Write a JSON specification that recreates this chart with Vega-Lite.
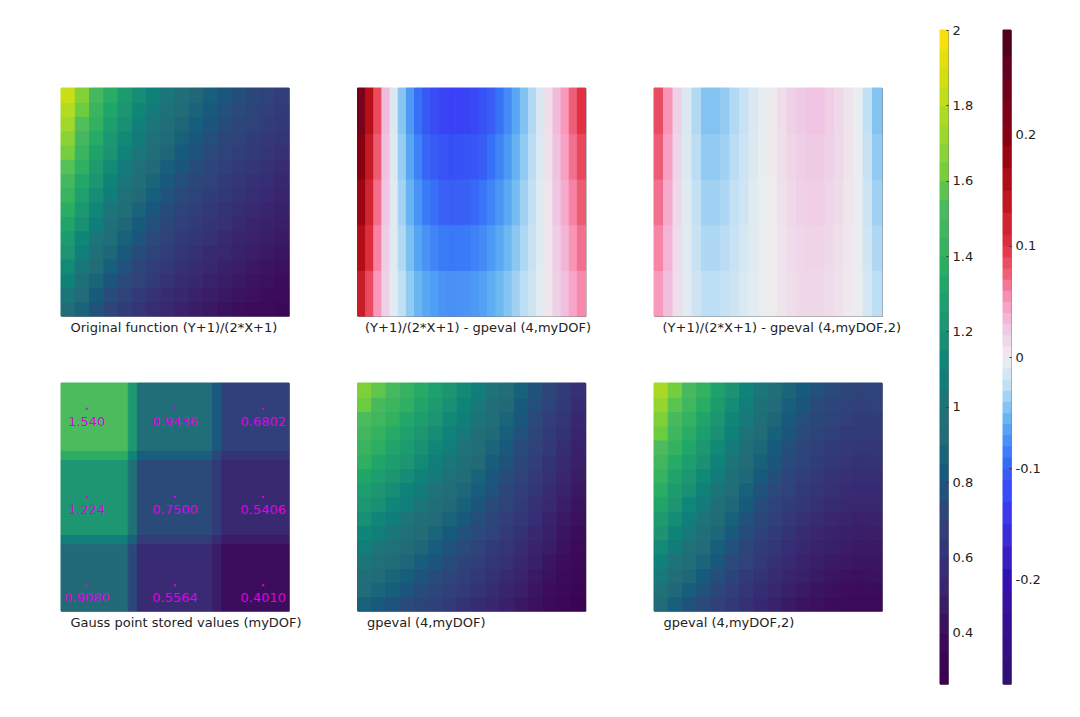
{"$schema":"https://vega.github.io/schema/vega-lite/v6.json","padding":{"left":60,"top":23,"right":0,"bottom":0},"config":{"view":{"stroke":"#808080","strokeWidth":1},"font":"DejaVu Sans","title":{"font":"DejaVu Sans","fontSize":13,"fontWeight":"normal","color":"#222222"},"scale":{"bandPaddingInner":0,"bandPaddingOuter":0}},"resolve":{"scale":{"color":"independent","stroke":"independent"}},"datasets":{
"p1":[{"x":0,"y":0,"v":0.97},{"x":0,"y":1,"v":1.03},{"x":0,"y":2,"v":1.09},{"x":0,"y":3,"v":1.15},{"x":0,"y":4,"v":1.21},{"x":0,"y":5,"v":1.26},{"x":0,"y":6,"v":1.32},{"x":0,"y":7,"v":1.38},{"x":0,"y":8,"v":1.44},{"x":0,"y":9,"v":1.5},{"x":0,"y":10,"v":1.56},{"x":0,"y":11,"v":1.62},{"x":0,"y":12,"v":1.68},{"x":0,"y":13,"v":1.74},{"x":0,"y":14,"v":1.79},{"x":0,"y":15,"v":1.85},
{"x":1,"y":0,"v":0.87},{"x":1,"y":1,"v":0.92},{"x":1,"y":2,"v":0.97},{"x":1,"y":3,"v":1.03},{"x":1,"y":4,"v":1.08},{"x":1,"y":5,"v":1.13},{"x":1,"y":6,"v":1.18},{"x":1,"y":7,"v":1.24},{"x":1,"y":8,"v":1.29},{"x":1,"y":9,"v":1.34},{"x":1,"y":10,"v":1.39},{"x":1,"y":11,"v":1.45},{"x":1,"y":12,"v":1.5},{"x":1,"y":13,"v":1.55},{"x":1,"y":14,"v":1.6},{"x":1,"y":15,"v":1.66},
{"x":2,"y":0,"v":0.79},{"x":2,"y":1,"v":0.83},{"x":2,"y":2,"v":0.88},{"x":2,"y":3,"v":0.93},{"x":2,"y":4,"v":0.98},{"x":2,"y":5,"v":1.02},{"x":2,"y":6,"v":1.07},{"x":2,"y":7,"v":1.12},{"x":2,"y":8,"v":1.17},{"x":2,"y":9,"v":1.21},{"x":2,"y":10,"v":1.26},{"x":2,"y":11,"v":1.31},{"x":2,"y":12,"v":1.36},{"x":2,"y":13,"v":1.41},{"x":2,"y":14,"v":1.45},{"x":2,"y":15,"v":1.5},
{"x":3,"y":0,"v":0.72},{"x":3,"y":1,"v":0.76},{"x":3,"y":2,"v":0.8},{"x":3,"y":3,"v":0.85},{"x":3,"y":4,"v":0.89},{"x":3,"y":5,"v":0.94},{"x":3,"y":6,"v":0.98},{"x":3,"y":7,"v":1.02},{"x":3,"y":8,"v":1.07},{"x":3,"y":9,"v":1.11},{"x":3,"y":10,"v":1.15},{"x":3,"y":11,"v":1.2},{"x":3,"y":12,"v":1.24},{"x":3,"y":13,"v":1.28},{"x":3,"y":14,"v":1.33},{"x":3,"y":15,"v":1.37},
{"x":4,"y":0,"v":0.66},{"x":4,"y":1,"v":0.7},{"x":4,"y":2,"v":0.74},{"x":4,"y":3,"v":0.78},{"x":4,"y":4,"v":0.82},{"x":4,"y":5,"v":0.86},{"x":4,"y":6,"v":0.9},{"x":4,"y":7,"v":0.94},{"x":4,"y":8,"v":0.98},{"x":4,"y":9,"v":1.02},{"x":4,"y":10,"v":1.06},{"x":4,"y":11,"v":1.1},{"x":4,"y":12,"v":1.14},{"x":4,"y":13,"v":1.18},{"x":4,"y":14,"v":1.22},{"x":4,"y":15,"v":1.26},
{"x":5,"y":0,"v":0.61},{"x":5,"y":1,"v":0.65},{"x":5,"y":2,"v":0.69},{"x":5,"y":3,"v":0.72},{"x":5,"y":4,"v":0.76},{"x":5,"y":5,"v":0.8},{"x":5,"y":6,"v":0.83},{"x":5,"y":7,"v":0.87},{"x":5,"y":8,"v":0.91},{"x":5,"y":9,"v":0.95},{"x":5,"y":10,"v":0.98},{"x":5,"y":11,"v":1.02},{"x":5,"y":12,"v":1.06},{"x":5,"y":13,"v":1.09},{"x":5,"y":14,"v":1.13},{"x":5,"y":15,"v":1.17},
{"x":6,"y":0,"v":0.57},{"x":6,"y":1,"v":0.6},{"x":6,"y":2,"v":0.64},{"x":6,"y":3,"v":0.67},{"x":6,"y":4,"v":0.71},{"x":6,"y":5,"v":0.74},{"x":6,"y":6,"v":0.78},{"x":6,"y":7,"v":0.81},{"x":6,"y":8,"v":0.85},{"x":6,"y":9,"v":0.88},{"x":6,"y":10,"v":0.91},{"x":6,"y":11,"v":0.95},{"x":6,"y":12,"v":0.98},{"x":6,"y":13,"v":1.02},{"x":6,"y":14,"v":1.05},{"x":6,"y":15,"v":1.09},
{"x":7,"y":0,"v":0.53},{"x":7,"y":1,"v":0.56},{"x":7,"y":2,"v":0.6},{"x":7,"y":3,"v":0.63},{"x":7,"y":4,"v":0.66},{"x":7,"y":5,"v":0.69},{"x":7,"y":6,"v":0.73},{"x":7,"y":7,"v":0.76},{"x":7,"y":8,"v":0.79},{"x":7,"y":9,"v":0.82},{"x":7,"y":10,"v":0.85},{"x":7,"y":11,"v":0.89},{"x":7,"y":12,"v":0.92},{"x":7,"y":13,"v":0.95},{"x":7,"y":14,"v":0.98},{"x":7,"y":15,"v":1.02},
{"x":8,"y":0,"v":0.5},{"x":8,"y":1,"v":0.53},{"x":8,"y":2,"v":0.56},{"x":8,"y":3,"v":0.59},{"x":8,"y":4,"v":0.62},{"x":8,"y":5,"v":0.65},{"x":8,"y":6,"v":0.68},{"x":8,"y":7,"v":0.71},{"x":8,"y":8,"v":0.74},{"x":8,"y":9,"v":0.77},{"x":8,"y":10,"v":0.8},{"x":8,"y":11,"v":0.83},{"x":8,"y":12,"v":0.86},{"x":8,"y":13,"v":0.89},{"x":8,"y":14,"v":0.92},{"x":8,"y":15,"v":0.95},
{"x":9,"y":0,"v":0.47},{"x":9,"y":1,"v":0.5},{"x":9,"y":2,"v":0.53},{"x":9,"y":3,"v":0.56},{"x":9,"y":4,"v":0.59},{"x":9,"y":5,"v":0.61},{"x":9,"y":6,"v":0.64},{"x":9,"y":7,"v":0.67},{"x":9,"y":8,"v":0.7},{"x":9,"y":9,"v":0.73},{"x":9,"y":10,"v":0.76},{"x":9,"y":11,"v":0.79},{"x":9,"y":12,"v":0.81},{"x":9,"y":13,"v":0.84},{"x":9,"y":14,"v":0.87},{"x":9,"y":15,"v":0.9},
{"x":10,"y":0,"v":0.45},{"x":10,"y":1,"v":0.47},{"x":10,"y":2,"v":0.5},{"x":10,"y":3,"v":0.53},{"x":10,"y":4,"v":0.55},{"x":10,"y":5,"v":0.58},{"x":10,"y":6,"v":0.61},{"x":10,"y":7,"v":0.63},{"x":10,"y":8,"v":0.66},{"x":10,"y":9,"v":0.69},{"x":10,"y":10,"v":0.72},{"x":10,"y":11,"v":0.74},{"x":10,"y":12,"v":0.77},{"x":10,"y":13,"v":0.8},{"x":10,"y":14,"v":0.82},{"x":10,"y":15,"v":0.85},
{"x":11,"y":0,"v":0.42},{"x":11,"y":1,"v":0.45},{"x":11,"y":2,"v":0.47},{"x":11,"y":3,"v":0.5},{"x":11,"y":4,"v":0.53},{"x":11,"y":5,"v":0.55},{"x":11,"y":6,"v":0.58},{"x":11,"y":7,"v":0.6},{"x":11,"y":8,"v":0.63},{"x":11,"y":9,"v":0.65},{"x":11,"y":10,"v":0.68},{"x":11,"y":11,"v":0.7},{"x":11,"y":12,"v":0.73},{"x":11,"y":13,"v":0.76},{"x":11,"y":14,"v":0.78},{"x":11,"y":15,"v":0.81},
{"x":12,"y":0,"v":0.4},{"x":12,"y":1,"v":0.43},{"x":12,"y":2,"v":0.45},{"x":12,"y":3,"v":0.48},{"x":12,"y":4,"v":0.5},{"x":12,"y":5,"v":0.52},{"x":12,"y":6,"v":0.55},{"x":12,"y":7,"v":0.57},{"x":12,"y":8,"v":0.6},{"x":12,"y":9,"v":0.62},{"x":12,"y":10,"v":0.65},{"x":12,"y":11,"v":0.67},{"x":12,"y":12,"v":0.69},{"x":12,"y":13,"v":0.72},{"x":12,"y":14,"v":0.74},{"x":12,"y":15,"v":0.77},
{"x":13,"y":0,"v":0.38},{"x":13,"y":1,"v":0.41},{"x":13,"y":2,"v":0.43},{"x":13,"y":3,"v":0.45},{"x":13,"y":4,"v":0.48},{"x":13,"y":5,"v":0.5},{"x":13,"y":6,"v":0.52},{"x":13,"y":7,"v":0.55},{"x":13,"y":8,"v":0.57},{"x":13,"y":9,"v":0.59},{"x":13,"y":10,"v":0.62},{"x":13,"y":11,"v":0.64},{"x":13,"y":12,"v":0.66},{"x":13,"y":13,"v":0.69},{"x":13,"y":14,"v":0.71},{"x":13,"y":15,"v":0.73},
{"x":14,"y":0,"v":0.37},{"x":14,"y":1,"v":0.39},{"x":14,"y":2,"v":0.41},{"x":14,"y":3,"v":0.43},{"x":14,"y":4,"v":0.46},{"x":14,"y":5,"v":0.48},{"x":14,"y":6,"v":0.5},{"x":14,"y":7,"v":0.52},{"x":14,"y":8,"v":0.55},{"x":14,"y":9,"v":0.57},{"x":14,"y":10,"v":0.59},{"x":14,"y":11,"v":0.61},{"x":14,"y":12,"v":0.63},{"x":14,"y":13,"v":0.66},{"x":14,"y":14,"v":0.68},{"x":14,"y":15,"v":0.7},
{"x":15,"y":0,"v":0.35},{"x":15,"y":1,"v":0.37},{"x":15,"y":2,"v":0.39},{"x":15,"y":3,"v":0.41},{"x":15,"y":4,"v":0.44},{"x":15,"y":5,"v":0.46},{"x":15,"y":6,"v":0.48},{"x":15,"y":7,"v":0.5},{"x":15,"y":8,"v":0.52},{"x":15,"y":9,"v":0.54},{"x":15,"y":10,"v":0.56},{"x":15,"y":11,"v":0.58},{"x":15,"y":12,"v":0.61},{"x":15,"y":13,"v":0.63},{"x":15,"y":14,"v":0.65},{"x":15,"y":15,"v":0.67}],
"p5":[{"x":0,"y":0,"v":0.86},{"x":0,"y":1,"v":0.92},{"x":0,"y":2,"v":0.97},{"x":0,"y":3,"v":1.02},{"x":0,"y":4,"v":1.07},{"x":0,"y":5,"v":1.12},{"x":0,"y":6,"v":1.18},{"x":0,"y":7,"v":1.23},{"x":0,"y":8,"v":1.28},{"x":0,"y":9,"v":1.33},{"x":0,"y":10,"v":1.39},{"x":0,"y":11,"v":1.44},{"x":0,"y":12,"v":1.49},{"x":0,"y":13,"v":1.54},{"x":0,"y":14,"v":1.6},{"x":0,"y":15,"v":1.65},
{"x":1,"y":0,"v":0.82},{"x":1,"y":1,"v":0.88},{"x":1,"y":2,"v":0.92},{"x":1,"y":3,"v":0.98},{"x":1,"y":4,"v":1.02},{"x":1,"y":5,"v":1.08},{"x":1,"y":6,"v":1.12},{"x":1,"y":7,"v":1.18},{"x":1,"y":8,"v":1.22},{"x":1,"y":9,"v":1.28},{"x":1,"y":10,"v":1.32},{"x":1,"y":11,"v":1.38},{"x":1,"y":12,"v":1.42},{"x":1,"y":13,"v":1.48},{"x":1,"y":14,"v":1.52},{"x":1,"y":15,"v":1.58},
{"x":2,"y":0,"v":0.79},{"x":2,"y":1,"v":0.84},{"x":2,"y":2,"v":0.88},{"x":2,"y":3,"v":0.93},{"x":2,"y":4,"v":0.98},{"x":2,"y":5,"v":1.03},{"x":2,"y":6,"v":1.08},{"x":2,"y":7,"v":1.12},{"x":2,"y":8,"v":1.17},{"x":2,"y":9,"v":1.22},{"x":2,"y":10,"v":1.27},{"x":2,"y":11,"v":1.32},{"x":2,"y":12,"v":1.36},{"x":2,"y":13,"v":1.41},{"x":2,"y":14,"v":1.46},{"x":2,"y":15,"v":1.51},
{"x":3,"y":0,"v":0.75},{"x":3,"y":1,"v":0.8},{"x":3,"y":2,"v":0.84},{"x":3,"y":3,"v":0.89},{"x":3,"y":4,"v":0.93},{"x":3,"y":5,"v":0.98},{"x":3,"y":6,"v":1.02},{"x":3,"y":7,"v":1.07},{"x":3,"y":8,"v":1.11},{"x":3,"y":9,"v":1.16},{"x":3,"y":10,"v":1.21},{"x":3,"y":11,"v":1.25},{"x":3,"y":12,"v":1.3},{"x":3,"y":13,"v":1.34},{"x":3,"y":14,"v":1.39},{"x":3,"y":15,"v":1.43},
{"x":4,"y":0,"v":0.71},{"x":4,"y":1,"v":0.76},{"x":4,"y":2,"v":0.8},{"x":4,"y":3,"v":0.84},{"x":4,"y":4,"v":0.89},{"x":4,"y":5,"v":0.93},{"x":4,"y":6,"v":0.97},{"x":4,"y":7,"v":1.02},{"x":4,"y":8,"v":1.06},{"x":4,"y":9,"v":1.1},{"x":4,"y":10,"v":1.15},{"x":4,"y":11,"v":1.19},{"x":4,"y":12,"v":1.23},{"x":4,"y":13,"v":1.28},{"x":4,"y":14,"v":1.32},{"x":4,"y":15,"v":1.36},
{"x":5,"y":0,"v":0.68},{"x":5,"y":1,"v":0.72},{"x":5,"y":2,"v":0.76},{"x":5,"y":3,"v":0.8},{"x":5,"y":4,"v":0.84},{"x":5,"y":5,"v":0.88},{"x":5,"y":6,"v":0.92},{"x":5,"y":7,"v":0.96},{"x":5,"y":8,"v":1.0},{"x":5,"y":9,"v":1.04},{"x":5,"y":10,"v":1.08},{"x":5,"y":11,"v":1.13},{"x":5,"y":12,"v":1.17},{"x":5,"y":13,"v":1.21},{"x":5,"y":14,"v":1.25},{"x":5,"y":15,"v":1.29},
{"x":6,"y":0,"v":0.64},{"x":6,"y":1,"v":0.68},{"x":6,"y":2,"v":0.72},{"x":6,"y":3,"v":0.76},{"x":6,"y":4,"v":0.79},{"x":6,"y":5,"v":0.83},{"x":6,"y":6,"v":0.87},{"x":6,"y":7,"v":0.91},{"x":6,"y":8,"v":0.95},{"x":6,"y":9,"v":0.99},{"x":6,"y":10,"v":1.03},{"x":6,"y":11,"v":1.07},{"x":6,"y":12,"v":1.1},{"x":6,"y":13,"v":1.14},{"x":6,"y":14,"v":1.18},{"x":6,"y":15,"v":1.22},
{"x":7,"y":0,"v":0.6},{"x":7,"y":1,"v":0.64},{"x":7,"y":2,"v":0.67},{"x":7,"y":3,"v":0.71},{"x":7,"y":4,"v":0.75},{"x":7,"y":5,"v":0.78},{"x":7,"y":6,"v":0.82},{"x":7,"y":7,"v":0.86},{"x":7,"y":8,"v":0.89},{"x":7,"y":9,"v":0.93},{"x":7,"y":10,"v":0.97},{"x":7,"y":11,"v":1.0},{"x":7,"y":12,"v":1.04},{"x":7,"y":13,"v":1.08},{"x":7,"y":14,"v":1.11},{"x":7,"y":15,"v":1.15},
{"x":8,"y":0,"v":0.56},{"x":8,"y":1,"v":0.6},{"x":8,"y":2,"v":0.63},{"x":8,"y":3,"v":0.67},{"x":8,"y":4,"v":0.7},{"x":8,"y":5,"v":0.74},{"x":8,"y":6,"v":0.77},{"x":8,"y":7,"v":0.8},{"x":8,"y":8,"v":0.84},{"x":8,"y":9,"v":0.87},{"x":8,"y":10,"v":0.91},{"x":8,"y":11,"v":0.94},{"x":8,"y":12,"v":0.97},{"x":8,"y":13,"v":1.01},{"x":8,"y":14,"v":1.04},{"x":8,"y":15,"v":1.08},
{"x":9,"y":0,"v":0.53},{"x":9,"y":1,"v":0.56},{"x":9,"y":2,"v":0.59},{"x":9,"y":3,"v":0.62},{"x":9,"y":4,"v":0.65},{"x":9,"y":5,"v":0.69},{"x":9,"y":6,"v":0.72},{"x":9,"y":7,"v":0.75},{"x":9,"y":8,"v":0.78},{"x":9,"y":9,"v":0.81},{"x":9,"y":10,"v":0.84},{"x":9,"y":11,"v":0.88},{"x":9,"y":12,"v":0.91},{"x":9,"y":13,"v":0.94},{"x":9,"y":14,"v":0.97},{"x":9,"y":15,"v":1.0},
{"x":10,"y":0,"v":0.49},{"x":10,"y":1,"v":0.52},{"x":10,"y":2,"v":0.55},{"x":10,"y":3,"v":0.58},{"x":10,"y":4,"v":0.61},{"x":10,"y":5,"v":0.64},{"x":10,"y":6,"v":0.67},{"x":10,"y":7,"v":0.7},{"x":10,"y":8,"v":0.73},{"x":10,"y":9,"v":0.76},{"x":10,"y":10,"v":0.79},{"x":10,"y":11,"v":0.82},{"x":10,"y":12,"v":0.85},{"x":10,"y":13,"v":0.88},{"x":10,"y":14,"v":0.91},{"x":10,"y":15,"v":0.94},
{"x":11,"y":0,"v":0.45},{"x":11,"y":1,"v":0.48},{"x":11,"y":2,"v":0.51},{"x":11,"y":3,"v":0.53},{"x":11,"y":4,"v":0.56},{"x":11,"y":5,"v":0.59},{"x":11,"y":6,"v":0.62},{"x":11,"y":7,"v":0.64},{"x":11,"y":8,"v":0.67},{"x":11,"y":9,"v":0.7},{"x":11,"y":10,"v":0.73},{"x":11,"y":11,"v":0.75},{"x":11,"y":12,"v":0.78},{"x":11,"y":13,"v":0.81},{"x":11,"y":14,"v":0.83},{"x":11,"y":15,"v":0.86},
{"x":12,"y":0,"v":0.41},{"x":12,"y":1,"v":0.44},{"x":12,"y":2,"v":0.46},{"x":12,"y":3,"v":0.49},{"x":12,"y":4,"v":0.51},{"x":12,"y":5,"v":0.54},{"x":12,"y":6,"v":0.57},{"x":12,"y":7,"v":0.59},{"x":12,"y":8,"v":0.62},{"x":12,"y":9,"v":0.64},{"x":12,"y":10,"v":0.67},{"x":12,"y":11,"v":0.69},{"x":12,"y":12,"v":0.72},{"x":12,"y":13,"v":0.74},{"x":12,"y":14,"v":0.77},{"x":12,"y":15,"v":0.79},
{"x":13,"y":0,"v":0.38},{"x":13,"y":1,"v":0.4},{"x":13,"y":2,"v":0.42},{"x":13,"y":3,"v":0.44},{"x":13,"y":4,"v":0.47},{"x":13,"y":5,"v":0.49},{"x":13,"y":6,"v":0.51},{"x":13,"y":7,"v":0.54},{"x":13,"y":8,"v":0.56},{"x":13,"y":9,"v":0.58},{"x":13,"y":10,"v":0.6},{"x":13,"y":11,"v":0.63},{"x":13,"y":12,"v":0.65},{"x":13,"y":13,"v":0.67},{"x":13,"y":14,"v":0.7},{"x":13,"y":15,"v":0.72},
{"x":14,"y":0,"v":0.34},{"x":14,"y":1,"v":0.36},{"x":14,"y":2,"v":0.38},{"x":14,"y":3,"v":0.4},{"x":14,"y":4,"v":0.42},{"x":14,"y":5,"v":0.44},{"x":14,"y":6,"v":0.46},{"x":14,"y":7,"v":0.48},{"x":14,"y":8,"v":0.51},{"x":14,"y":9,"v":0.53},{"x":14,"y":10,"v":0.55},{"x":14,"y":11,"v":0.57},{"x":14,"y":12,"v":0.59},{"x":14,"y":13,"v":0.61},{"x":14,"y":14,"v":0.63},{"x":14,"y":15,"v":0.65},
{"x":15,"y":0,"v":0.3},{"x":15,"y":1,"v":0.32},{"x":15,"y":2,"v":0.34},{"x":15,"y":3,"v":0.36},{"x":15,"y":4,"v":0.38},{"x":15,"y":5,"v":0.39},{"x":15,"y":6,"v":0.41},{"x":15,"y":7,"v":0.43},{"x":15,"y":8,"v":0.45},{"x":15,"y":9,"v":0.47},{"x":15,"y":10,"v":0.49},{"x":15,"y":11,"v":0.5},{"x":15,"y":12,"v":0.52},{"x":15,"y":13,"v":0.54},{"x":15,"y":14,"v":0.56},{"x":15,"y":15,"v":0.58}],
"p6":[{"x":0,"y":0,"v":0.92},{"x":0,"y":1,"v":0.98},{"x":0,"y":2,"v":1.04},{"x":0,"y":3,"v":1.09},{"x":0,"y":4,"v":1.15},{"x":0,"y":5,"v":1.2},{"x":0,"y":6,"v":1.26},{"x":0,"y":7,"v":1.32},{"x":0,"y":8,"v":1.37},{"x":0,"y":9,"v":1.43},{"x":0,"y":10,"v":1.48},{"x":0,"y":11,"v":1.54},{"x":0,"y":12,"v":1.6},{"x":0,"y":13,"v":1.65},{"x":0,"y":14,"v":1.71},{"x":0,"y":15,"v":1.76},
{"x":1,"y":0,"v":0.85},{"x":1,"y":1,"v":0.9},{"x":1,"y":2,"v":0.95},{"x":1,"y":3,"v":1.0},{"x":1,"y":4,"v":1.06},{"x":1,"y":5,"v":1.11},{"x":1,"y":6,"v":1.16},{"x":1,"y":7,"v":1.21},{"x":1,"y":8,"v":1.26},{"x":1,"y":9,"v":1.31},{"x":1,"y":10,"v":1.36},{"x":1,"y":11,"v":1.42},{"x":1,"y":12,"v":1.47},{"x":1,"y":13,"v":1.52},{"x":1,"y":14,"v":1.57},{"x":1,"y":15,"v":1.62},
{"x":2,"y":0,"v":0.79},{"x":2,"y":1,"v":0.84},{"x":2,"y":2,"v":0.89},{"x":2,"y":3,"v":0.94},{"x":2,"y":4,"v":0.99},{"x":2,"y":5,"v":1.04},{"x":2,"y":6,"v":1.08},{"x":2,"y":7,"v":1.13},{"x":2,"y":8,"v":1.18},{"x":2,"y":9,"v":1.23},{"x":2,"y":10,"v":1.28},{"x":2,"y":11,"v":1.33},{"x":2,"y":12,"v":1.37},{"x":2,"y":13,"v":1.42},{"x":2,"y":14,"v":1.47},{"x":2,"y":15,"v":1.52},
{"x":3,"y":0,"v":0.74},{"x":3,"y":1,"v":0.79},{"x":3,"y":2,"v":0.83},{"x":3,"y":3,"v":0.88},{"x":3,"y":4,"v":0.92},{"x":3,"y":5,"v":0.97},{"x":3,"y":6,"v":1.01},{"x":3,"y":7,"v":1.05},{"x":3,"y":8,"v":1.1},{"x":3,"y":9,"v":1.14},{"x":3,"y":10,"v":1.19},{"x":3,"y":11,"v":1.23},{"x":3,"y":12,"v":1.28},{"x":3,"y":13,"v":1.32},{"x":3,"y":14,"v":1.37},{"x":3,"y":15,"v":1.41},
{"x":4,"y":0,"v":0.68},{"x":4,"y":1,"v":0.72},{"x":4,"y":2,"v":0.77},{"x":4,"y":3,"v":0.81},{"x":4,"y":4,"v":0.85},{"x":4,"y":5,"v":0.89},{"x":4,"y":6,"v":0.93},{"x":4,"y":7,"v":0.97},{"x":4,"y":8,"v":1.01},{"x":4,"y":9,"v":1.06},{"x":4,"y":10,"v":1.1},{"x":4,"y":11,"v":1.14},{"x":4,"y":12,"v":1.18},{"x":4,"y":13,"v":1.22},{"x":4,"y":14,"v":1.26},{"x":4,"y":15,"v":1.3},
{"x":5,"y":0,"v":0.63},{"x":5,"y":1,"v":0.67},{"x":5,"y":2,"v":0.71},{"x":5,"y":3,"v":0.74},{"x":5,"y":4,"v":0.78},{"x":5,"y":5,"v":0.82},{"x":5,"y":6,"v":0.86},{"x":5,"y":7,"v":0.9},{"x":5,"y":8,"v":0.94},{"x":5,"y":9,"v":0.97},{"x":5,"y":10,"v":1.01},{"x":5,"y":11,"v":1.05},{"x":5,"y":12,"v":1.09},{"x":5,"y":13,"v":1.13},{"x":5,"y":14,"v":1.16},{"x":5,"y":15,"v":1.2},
{"x":6,"y":0,"v":0.58},{"x":6,"y":1,"v":0.61},{"x":6,"y":2,"v":0.65},{"x":6,"y":3,"v":0.69},{"x":6,"y":4,"v":0.72},{"x":6,"y":5,"v":0.76},{"x":6,"y":6,"v":0.79},{"x":6,"y":7,"v":0.83},{"x":6,"y":8,"v":0.86},{"x":6,"y":9,"v":0.9},{"x":6,"y":10,"v":0.93},{"x":6,"y":11,"v":0.97},{"x":6,"y":12,"v":1.0},{"x":6,"y":13,"v":1.04},{"x":6,"y":14,"v":1.07},{"x":6,"y":15,"v":1.11},
{"x":7,"y":0,"v":0.54},{"x":7,"y":1,"v":0.57},{"x":7,"y":2,"v":0.6},{"x":7,"y":3,"v":0.63},{"x":7,"y":4,"v":0.66},{"x":7,"y":5,"v":0.7},{"x":7,"y":6,"v":0.73},{"x":7,"y":7,"v":0.76},{"x":7,"y":8,"v":0.79},{"x":7,"y":9,"v":0.83},{"x":7,"y":10,"v":0.86},{"x":7,"y":11,"v":0.89},{"x":7,"y":12,"v":0.92},{"x":7,"y":13,"v":0.96},{"x":7,"y":14,"v":0.99},{"x":7,"y":15,"v":1.02},
{"x":8,"y":0,"v":0.5},{"x":8,"y":1,"v":0.53},{"x":8,"y":2,"v":0.56},{"x":8,"y":3,"v":0.59},{"x":8,"y":4,"v":0.62},{"x":8,"y":5,"v":0.65},{"x":8,"y":6,"v":0.68},{"x":8,"y":7,"v":0.71},{"x":8,"y":8,"v":0.74},{"x":8,"y":9,"v":0.77},{"x":8,"y":10,"v":0.8},{"x":8,"y":11,"v":0.83},{"x":8,"y":12,"v":0.86},{"x":8,"y":13,"v":0.89},{"x":8,"y":14,"v":0.92},{"x":8,"y":15,"v":0.95},
{"x":9,"y":0,"v":0.46},{"x":9,"y":1,"v":0.49},{"x":9,"y":2,"v":0.52},{"x":9,"y":3,"v":0.55},{"x":9,"y":4,"v":0.57},{"x":9,"y":5,"v":0.6},{"x":9,"y":6,"v":0.63},{"x":9,"y":7,"v":0.66},{"x":9,"y":8,"v":0.69},{"x":9,"y":9,"v":0.71},{"x":9,"y":10,"v":0.74},{"x":9,"y":11,"v":0.77},{"x":9,"y":12,"v":0.8},{"x":9,"y":13,"v":0.83},{"x":9,"y":14,"v":0.85},{"x":9,"y":15,"v":0.88},
{"x":10,"y":0,"v":0.43},{"x":10,"y":1,"v":0.46},{"x":10,"y":2,"v":0.49},{"x":10,"y":3,"v":0.51},{"x":10,"y":4,"v":0.54},{"x":10,"y":5,"v":0.56},{"x":10,"y":6,"v":0.59},{"x":10,"y":7,"v":0.62},{"x":10,"y":8,"v":0.64},{"x":10,"y":9,"v":0.67},{"x":10,"y":10,"v":0.7},{"x":10,"y":11,"v":0.72},{"x":10,"y":12,"v":0.75},{"x":10,"y":13,"v":0.77},{"x":10,"y":14,"v":0.8},{"x":10,"y":15,"v":0.83},
{"x":11,"y":0,"v":0.41},{"x":11,"y":1,"v":0.43},{"x":11,"y":2,"v":0.46},{"x":11,"y":3,"v":0.48},{"x":11,"y":4,"v":0.51},{"x":11,"y":5,"v":0.53},{"x":11,"y":6,"v":0.56},{"x":11,"y":7,"v":0.58},{"x":11,"y":8,"v":0.61},{"x":11,"y":9,"v":0.63},{"x":11,"y":10,"v":0.66},{"x":11,"y":11,"v":0.68},{"x":11,"y":12,"v":0.71},{"x":11,"y":13,"v":0.73},{"x":11,"y":14,"v":0.75},{"x":11,"y":15,"v":0.78},
{"x":12,"y":0,"v":0.39},{"x":12,"y":1,"v":0.41},{"x":12,"y":2,"v":0.44},{"x":12,"y":3,"v":0.46},{"x":12,"y":4,"v":0.49},{"x":12,"y":5,"v":0.51},{"x":12,"y":6,"v":0.53},{"x":12,"y":7,"v":0.56},{"x":12,"y":8,"v":0.58},{"x":12,"y":9,"v":0.6},{"x":12,"y":10,"v":0.63},{"x":12,"y":11,"v":0.65},{"x":12,"y":12,"v":0.68},{"x":12,"y":13,"v":0.7},{"x":12,"y":14,"v":0.72},{"x":12,"y":15,"v":0.75},
{"x":13,"y":0,"v":0.38},{"x":13,"y":1,"v":0.4},{"x":13,"y":2,"v":0.42},{"x":13,"y":3,"v":0.45},{"x":13,"y":4,"v":0.47},{"x":13,"y":5,"v":0.49},{"x":13,"y":6,"v":0.52},{"x":13,"y":7,"v":0.54},{"x":13,"y":8,"v":0.56},{"x":13,"y":9,"v":0.58},{"x":13,"y":10,"v":0.61},{"x":13,"y":11,"v":0.63},{"x":13,"y":12,"v":0.65},{"x":13,"y":13,"v":0.68},{"x":13,"y":14,"v":0.7},{"x":13,"y":15,"v":0.72},
{"x":14,"y":0,"v":0.37},{"x":14,"y":1,"v":0.39},{"x":14,"y":2,"v":0.41},{"x":14,"y":3,"v":0.44},{"x":14,"y":4,"v":0.46},{"x":14,"y":5,"v":0.48},{"x":14,"y":6,"v":0.5},{"x":14,"y":7,"v":0.53},{"x":14,"y":8,"v":0.55},{"x":14,"y":9,"v":0.57},{"x":14,"y":10,"v":0.59},{"x":14,"y":11,"v":0.62},{"x":14,"y":12,"v":0.64},{"x":14,"y":13,"v":0.66},{"x":14,"y":14,"v":0.68},{"x":14,"y":15,"v":0.7},
{"x":15,"y":0,"v":0.37},{"x":15,"y":1,"v":0.39},{"x":15,"y":2,"v":0.42},{"x":15,"y":3,"v":0.44},{"x":15,"y":4,"v":0.46},{"x":15,"y":5,"v":0.48},{"x":15,"y":6,"v":0.51},{"x":15,"y":7,"v":0.53},{"x":15,"y":8,"v":0.55},{"x":15,"y":9,"v":0.57},{"x":15,"y":10,"v":0.6},{"x":15,"y":11,"v":0.62},{"x":15,"y":12,"v":0.64},{"x":15,"y":13,"v":0.66},{"x":15,"y":14,"v":0.69},{"x":15,"y":15,"v":0.71}],
"p2":[{"x":0,"y":0,"v":0.132},{"x":0,"y":1,"v":0.156},{"x":0,"y":2,"v":0.18},{"x":0,"y":3,"v":0.204},{"x":0,"y":4,"v":0.228},{"x":1,"y":0,"v":0.087},{"x":1,"y":1,"v":0.103},{"x":1,"y":2,"v":0.119},{"x":1,"y":3,"v":0.134},{"x":1,"y":4,"v":0.15},{"x":2,"y":0,"v":0.051},{"x":2,"y":1,"v":0.06},{"x":2,"y":2,"v":0.069},{"x":2,"y":3,"v":0.078},{"x":2,"y":4,"v":0.087},{"x":3,"y":0,"v":0.019},{"x":3,"y":1,"v":0.022},{"x":3,"y":2,"v":0.026},{"x":3,"y":3,"v":0.029},{"x":3,"y":4,"v":0.032},{"x":4,"y":0,"v":-0.007},{"x":4,"y":1,"v":-0.008},{"x":4,"y":2,"v":-0.009},{"x":4,"y":3,"v":-0.01},{"x":4,"y":4,"v":-0.011},{"x":5,"y":0,"v":-0.025},{"x":5,"y":1,"v":-0.03},{"x":5,"y":2,"v":-0.035},{"x":5,"y":3,"v":-0.039},{"x":5,"y":4,"v":-0.044},{"x":6,"y":0,"v":-0.041},{"x":6,"y":1,"v":-0.048},{"x":6,"y":2,"v":-0.056},{"x":6,"y":3,"v":-0.063},{"x":6,"y":4,"v":-0.07},{"x":7,"y":0,"v":-0.054},{"x":7,"y":1,"v":-0.064},{"x":7,"y":2,"v":-0.074},{"x":7,"y":3,"v":-0.083},{"x":7,"y":4,"v":-0.093},{"x":8,"y":0,"v":-0.063},{"x":8,"y":1,"v":-0.074},{"x":8,"y":2,"v":-0.086},{"x":8,"y":3,"v":-0.097},{"x":8,"y":4,"v":-0.108},{"x":9,"y":0,"v":-0.068},{"x":9,"y":1,"v":-0.081},{"x":9,"y":2,"v":-0.093},{"x":9,"y":3,"v":-0.105},{"x":9,"y":4,"v":-0.118},{"x":10,"y":0,"v":-0.073},{"x":10,"y":1,"v":-0.086},{"x":10,"y":2,"v":-0.099},{"x":10,"y":3,"v":-0.112},{"x":10,"y":4,"v":-0.125},{"x":11,"y":0,"v":-0.075},{"x":11,"y":1,"v":-0.088},{"x":11,"y":2,"v":-0.102},{"x":11,"y":3,"v":-0.116},{"x":11,"y":4,"v":-0.129},{"x":12,"y":0,"v":-0.074},{"x":12,"y":1,"v":-0.087},{"x":12,"y":2,"v":-0.101},{"x":12,"y":3,"v":-0.114},{"x":12,"y":4,"v":-0.127},{"x":13,"y":0,"v":-0.073},{"x":13,"y":1,"v":-0.086},{"x":13,"y":2,"v":-0.099},{"x":13,"y":3,"v":-0.112},{"x":13,"y":4,"v":-0.125},{"x":14,"y":0,"v":-0.07},{"x":14,"y":1,"v":-0.083},{"x":14,"y":2,"v":-0.096},{"x":14,"y":3,"v":-0.109},{"x":14,"y":4,"v":-0.122},{"x":15,"y":0,"v":-0.066},{"x":15,"y":1,"v":-0.078},{"x":15,"y":2,"v":-0.09},{"x":15,"y":3,"v":-0.102},{"x":15,"y":4,"v":-0.114},{"x":16,"y":0,"v":-0.059},{"x":16,"y":1,"v":-0.07},{"x":16,"y":2,"v":-0.081},{"x":16,"y":3,"v":-0.092},{"x":16,"y":4,"v":-0.103},{"x":17,"y":0,"v":-0.053},{"x":17,"y":1,"v":-0.062},{"x":17,"y":2,"v":-0.072},{"x":17,"y":3,"v":-0.082},{"x":17,"y":4,"v":-0.091},{"x":18,"y":0,"v":-0.045},{"x":18,"y":1,"v":-0.053},{"x":18,"y":2,"v":-0.062},{"x":18,"y":3,"v":-0.07},{"x":18,"y":4,"v":-0.078},{"x":19,"y":0,"v":-0.036},{"x":19,"y":1,"v":-0.043},{"x":19,"y":2,"v":-0.05},{"x":19,"y":3,"v":-0.056},{"x":19,"y":4,"v":-0.063},{"x":20,"y":0,"v":-0.026},{"x":20,"y":1,"v":-0.031},{"x":20,"y":2,"v":-0.036},{"x":20,"y":3,"v":-0.041},{"x":20,"y":4,"v":-0.046},{"x":21,"y":0,"v":-0.018},{"x":21,"y":1,"v":-0.021},{"x":21,"y":2,"v":-0.024},{"x":21,"y":3,"v":-0.027},{"x":21,"y":4,"v":-0.03},{"x":22,"y":0,"v":-0.007},{"x":22,"y":1,"v":-0.008},{"x":22,"y":2,"v":-0.009},{"x":22,"y":3,"v":-0.01},{"x":22,"y":4,"v":-0.011},{"x":23,"y":0,"v":0.006},{"x":23,"y":1,"v":0.007},{"x":23,"y":2,"v":0.008},{"x":23,"y":3,"v":0.009},{"x":23,"y":4,"v":0.01},{"x":24,"y":0,"v":0.019},{"x":24,"y":1,"v":0.022},{"x":24,"y":2,"v":0.026},{"x":24,"y":3,"v":0.029},{"x":24,"y":4,"v":0.032},{"x":25,"y":0,"v":0.03},{"x":25,"y":1,"v":0.035},{"x":25,"y":2,"v":0.041},{"x":25,"y":3,"v":0.046},{"x":25,"y":4,"v":0.051},{"x":26,"y":0,"v":0.044},{"x":26,"y":1,"v":0.052},{"x":26,"y":2,"v":0.06},{"x":26,"y":3,"v":0.068},{"x":26,"y":4,"v":0.076},{"x":27,"y":0,"v":0.057},{"x":27,"y":1,"v":0.068},{"x":27,"y":2,"v":0.078},{"x":27,"y":3,"v":0.088},{"x":27,"y":4,"v":0.099}],
"p3":[{"x":0,"y":0,"v":0.05},{"x":0,"y":1,"v":0.059},{"x":0,"y":2,"v":0.068},{"x":0,"y":3,"v":0.077},{"x":0,"y":4,"v":0.086},{"x":1,"y":0,"v":0.03},{"x":1,"y":1,"v":0.036},{"x":1,"y":2,"v":0.041},{"x":1,"y":3,"v":0.047},{"x":1,"y":4,"v":0.052},{"x":2,"y":0,"v":0.011},{"x":2,"y":1,"v":0.013},{"x":2,"y":2,"v":0.015},{"x":2,"y":3,"v":0.017},{"x":2,"y":4,"v":0.019},{"x":3,"y":0,"v":-0.007},{"x":3,"y":1,"v":-0.008},{"x":3,"y":2,"v":-0.009},{"x":3,"y":3,"v":-0.01},{"x":3,"y":4,"v":-0.011},{"x":4,"y":0,"v":-0.018},{"x":4,"y":1,"v":-0.021},{"x":4,"y":2,"v":-0.024},{"x":4,"y":3,"v":-0.027},{"x":4,"y":4,"v":-0.03},{"x":5,"y":0,"v":-0.026},{"x":5,"y":1,"v":-0.031},{"x":5,"y":2,"v":-0.036},{"x":5,"y":3,"v":-0.041},{"x":5,"y":4,"v":-0.046},{"x":6,"y":0,"v":-0.026},{"x":6,"y":1,"v":-0.031},{"x":6,"y":2,"v":-0.036},{"x":6,"y":3,"v":-0.041},{"x":6,"y":4,"v":-0.046},{"x":7,"y":0,"v":-0.023},{"x":7,"y":1,"v":-0.027},{"x":7,"y":2,"v":-0.032},{"x":7,"y":3,"v":-0.036},{"x":7,"y":4,"v":-0.04},{"x":8,"y":0,"v":-0.018},{"x":8,"y":1,"v":-0.021},{"x":8,"y":2,"v":-0.024},{"x":8,"y":3,"v":-0.027},{"x":8,"y":4,"v":-0.03},{"x":9,"y":0,"v":-0.012},{"x":9,"y":1,"v":-0.014},{"x":9,"y":2,"v":-0.017},{"x":9,"y":3,"v":-0.019},{"x":9,"y":4,"v":-0.021},{"x":10,"y":0,"v":-0.007},{"x":10,"y":1,"v":-0.008},{"x":10,"y":2,"v":-0.009},{"x":10,"y":3,"v":-0.01},{"x":10,"y":4,"v":-0.011},{"x":11,"y":0,"v":-0.003},{"x":11,"y":1,"v":-0.003},{"x":11,"y":2,"v":-0.004},{"x":11,"y":3,"v":-0.004},{"x":11,"y":4,"v":-0.005},{"x":12,"y":0,"v":0.002},{"x":12,"y":1,"v":0.002},{"x":12,"y":2,"v":0.002},{"x":12,"y":3,"v":0.003},{"x":12,"y":4,"v":0.003},{"x":13,"y":0,"v":0.007},{"x":13,"y":1,"v":0.008},{"x":13,"y":2,"v":0.009},{"x":13,"y":3,"v":0.01},{"x":13,"y":4,"v":0.011},{"x":14,"y":0,"v":0.011},{"x":14,"y":1,"v":0.013},{"x":14,"y":2,"v":0.015},{"x":14,"y":3,"v":0.017},{"x":14,"y":4,"v":0.019},{"x":15,"y":0,"v":0.014},{"x":15,"y":1,"v":0.016},{"x":15,"y":2,"v":0.019},{"x":15,"y":3,"v":0.021},{"x":15,"y":4,"v":0.024},{"x":16,"y":0,"v":0.015},{"x":16,"y":1,"v":0.018},{"x":16,"y":2,"v":0.021},{"x":16,"y":3,"v":0.024},{"x":16,"y":4,"v":0.027},{"x":17,"y":0,"v":0.015},{"x":17,"y":1,"v":0.018},{"x":17,"y":2,"v":0.021},{"x":17,"y":3,"v":0.024},{"x":17,"y":4,"v":0.027},{"x":18,"y":0,"v":0.012},{"x":18,"y":1,"v":0.014},{"x":18,"y":2,"v":0.017},{"x":18,"y":3,"v":0.019},{"x":18,"y":4,"v":0.021},{"x":19,"y":0,"v":0.009},{"x":19,"y":1,"v":0.01},{"x":19,"y":2,"v":0.012},{"x":19,"y":3,"v":0.014},{"x":19,"y":4,"v":0.015},{"x":20,"y":0,"v":0.004},{"x":20,"y":1,"v":0.005},{"x":20,"y":2,"v":0.006},{"x":20,"y":3,"v":0.007},{"x":20,"y":4,"v":0.008},{"x":21,"y":0,"v":-0.002},{"x":21,"y":1,"v":-0.003},{"x":21,"y":2,"v":-0.003},{"x":21,"y":3,"v":-0.003},{"x":21,"y":4,"v":-0.004},{"x":22,"y":0,"v":-0.014},{"x":22,"y":1,"v":-0.016},{"x":22,"y":2,"v":-0.019},{"x":22,"y":3,"v":-0.021},{"x":22,"y":4,"v":-0.024},{"x":23,"y":0,"v":-0.026},{"x":23,"y":1,"v":-0.031},{"x":23,"y":2,"v":-0.036},{"x":23,"y":3,"v":-0.041},{"x":23,"y":4,"v":-0.046}],
"p4":[{"x":0,"x2":0.295,"y":0,"y2":0.295,"v":0.908},{"x":0.295,"x2":0.335,"y":0,"y2":0.295,"v":0.732},{"x":0.335,"x2":0.665,"y":0,"y2":0.295,"v":0.556},{"x":0.665,"x2":0.705,"y":0,"y2":0.295,"v":0.479},{"x":0.705,"x2":1,"y":0,"y2":0.295,"v":0.401},{"x":0,"x2":0.295,"y":0.295,"y2":0.335,"v":1.066},{"x":0.295,"x2":0.335,"y":0.295,"y2":0.335,"v":0.86},{"x":0.335,"x2":0.665,"y":0.295,"y2":0.335,"v":0.653},{"x":0.665,"x2":0.705,"y":0.295,"y2":0.335,"v":0.562},{"x":0.705,"x2":1,"y":0.295,"y2":0.335,"v":0.471},{"x":0,"x2":0.295,"y":0.335,"y2":0.665,"v":1.224},{"x":0.295,"x2":0.335,"y":0.335,"y2":0.665,"v":0.987},{"x":0.335,"x2":0.665,"y":0.335,"y2":0.665,"v":0.75},{"x":0.665,"x2":0.705,"y":0.335,"y2":0.665,"v":0.645},{"x":0.705,"x2":1,"y":0.335,"y2":0.665,"v":0.541},{"x":0,"x2":0.295,"y":0.665,"y2":0.705,"v":1.382},{"x":0.295,"x2":0.335,"y":0.665,"y2":0.705,"v":1.115},{"x":0.335,"x2":0.665,"y":0.665,"y2":0.705,"v":0.847},{"x":0.665,"x2":0.705,"y":0.665,"y2":0.705,"v":0.729},{"x":0.705,"x2":1,"y":0.665,"y2":0.705,"v":0.611},{"x":0,"x2":0.295,"y":0.705,"y2":1,"v":1.54},{"x":0.295,"x2":0.335,"y":0.705,"y2":1,"v":1.242},{"x":0.335,"x2":0.665,"y":0.705,"y2":1,"v":0.944},{"x":0.665,"x2":0.705,"y":0.705,"y2":1,"v":0.812},{"x":0.705,"x2":1,"y":0.705,"y2":1,"v":0.68}],
"s":[{"x":0.113,"y":0.887,"t":"1.540"},{"x":0.5,"y":0.887,"t":"0.9436"},{"x":0.887,"y":0.887,"t":"0.6802"},{"x":0.113,"y":0.5,"t":"1.224"},{"x":0.5,"y":0.5,"t":"0.7500"},{"x":0.887,"y":0.5,"t":"0.5406"},{"x":0.113,"y":0.113,"t":"0.9080"},{"x":0.5,"y":0.113,"t":"0.5564"},{"x":0.887,"y":0.113,"t":"0.4010"}],
"cb1":[{"a":0.264,"b":0.3,"v":0.28},{"a":0.3,"b":0.35,"v":0.325},{"a":0.35,"b":0.4,"v":0.375},{"a":0.4,"b":0.45,"v":0.425},{"a":0.45,"b":0.5,"v":0.475},{"a":0.5,"b":0.55,"v":0.525},{"a":0.55,"b":0.6,"v":0.575},{"a":0.6,"b":0.65,"v":0.625},{"a":0.65,"b":0.7,"v":0.675},{"a":0.7,"b":0.75,"v":0.725},{"a":0.75,"b":0.8,"v":0.775},{"a":0.8,"b":0.85,"v":0.825},{"a":0.85,"b":0.9,"v":0.875},{"a":0.9,"b":0.95,"v":0.925},{"a":0.95,"b":1,"v":0.975},{"a":1,"b":1.05,"v":1.025},{"a":1.05,"b":1.1,"v":1.075},{"a":1.1,"b":1.15,"v":1.125},{"a":1.15,"b":1.2,"v":1.175},{"a":1.2,"b":1.25,"v":1.225},{"a":1.25,"b":1.3,"v":1.275},{"a":1.3,"b":1.35,"v":1.325},{"a":1.35,"b":1.4,"v":1.375},{"a":1.4,"b":1.45,"v":1.425},{"a":1.45,"b":1.5,"v":1.475},{"a":1.5,"b":1.55,"v":1.525},{"a":1.55,"b":1.6,"v":1.575},{"a":1.6,"b":1.65,"v":1.625},{"a":1.65,"b":1.7,"v":1.675},{"a":1.7,"b":1.75,"v":1.725},{"a":1.75,"b":1.8,"v":1.775},{"a":1.8,"b":1.85,"v":1.825},{"a":1.85,"b":1.9,"v":1.875},{"a":1.9,"b":1.95,"v":1.925},{"a":1.95,"b":2,"v":1.975}],
"cb2":[{"a":-0.294,"b":-0.27,"v":-0.282},{"a":-0.27,"b":-0.25,"v":-0.26},{"a":-0.25,"b":-0.23,"v":-0.24},{"a":-0.23,"b":-0.21,"v":-0.22},{"a":-0.21,"b":-0.19,"v":-0.2},{"a":-0.19,"b":-0.17,"v":-0.18},{"a":-0.17,"b":-0.15,"v":-0.16},{"a":-0.15,"b":-0.13,"v":-0.14},{"a":-0.13,"b":-0.11,"v":-0.12},{"a":-0.11,"b":-0.1,"v":-0.105},{"a":-0.1,"b":-0.09,"v":-0.095},{"a":-0.09,"b":-0.08,"v":-0.085},{"a":-0.08,"b":-0.07,"v":-0.075},{"a":-0.07,"b":-0.06,"v":-0.065},{"a":-0.06,"b":-0.05,"v":-0.055},{"a":-0.05,"b":-0.04,"v":-0.045},{"a":-0.04,"b":-0.03,"v":-0.035},{"a":-0.03,"b":-0.02,"v":-0.025},{"a":-0.02,"b":-0.01,"v":-0.015},{"a":-0.01,"b":0,"v":-0.005},{"a":0,"b":0.01,"v":0.005},{"a":0.01,"b":0.02,"v":0.015},{"a":0.02,"b":0.03,"v":0.025},{"a":0.03,"b":0.04,"v":0.035},{"a":0.04,"b":0.05,"v":0.045},{"a":0.05,"b":0.06,"v":0.055},{"a":0.06,"b":0.07,"v":0.065},{"a":0.07,"b":0.08,"v":0.075},{"a":0.08,"b":0.09,"v":0.085},{"a":0.09,"b":0.1,"v":0.095},{"a":0.1,"b":0.11,"v":0.105},{"a":0.11,"b":0.13,"v":0.12},{"a":0.13,"b":0.15,"v":0.14},{"a":0.15,"b":0.17,"v":0.16},{"a":0.17,"b":0.19,"v":0.18},{"a":0.19,"b":0.21,"v":0.2},{"a":0.21,"b":0.23,"v":0.22},{"a":0.23,"b":0.25,"v":0.24},{"a":0.25,"b":0.27,"v":0.26},{"a":0.27,"b":0.294,"v":0.282}]},
"spacing":37,"hconcat":[{"spacing":0,"resolve":{"scale":{"color":"independent","stroke":"independent"}},"vconcat":[{"height":57,"width":1,"view":{"stroke":null},"data":{"values":[]},"mark":"text"},{"bounds":"flush","columns":3,"spacing":{"row":67,"column":68.5},"resolve":{"scale":{"color":"independent","stroke":"independent"}},"concat":[
{"width":228,"height":228,"title":{"text":"Original function (Y+1)/(2*X+1)","orient":"bottom","anchor":"start","dx":10,"offset":5},"data":{"name":"p1"},"mark":{"type":"rect","strokeWidth":1},"encoding":{"x":{"field":"x","type":"ordinal","axis":null},"y":{"field":"y","type":"ordinal","axis":null,"sort":"descending"},"color":{"field":"v","type":"quantitative","legend":null,"scale":{"domain":[0.264,0.4,0.55,0.68,0.75,0.91,1,1.2,1.4,1.54,1.6,1.8,2],"range":["#3a0050","#3b0d5c","#382a72","#31407a","#2a4a7a","#236a78","#1f7278","#1f9272","#30b060","#4cbb5e","#6ccc40","#b8dc20","#ffe010"]}},"stroke":{"field":"v","type":"quantitative","legend":null,"scale":{"domain":[0.264,0.4,0.55,0.68,0.75,0.91,1,1.2,1.4,1.54,1.6,1.8,2],"range":["#3a0050","#3b0d5c","#382a72","#31407a","#2a4a7a","#236a78","#1f7278","#1f9272","#30b060","#4cbb5e","#6ccc40","#b8dc20","#ffe010"]}}}},
{"width":228,"height":228,"title":{"text":"(Y+1)/(2*X+1) - gpeval (4,myDOF)","orient":"bottom","anchor":"start","dx":8,"offset":5},"data":{"name":"p2"},"mark":{"type":"rect","strokeWidth":1},"encoding":{"x":{"field":"x","type":"ordinal","axis":null},"y":{"field":"y","type":"ordinal","axis":null,"sort":"descending"},"color":{"field":"v","type":"quantitative","legend":null,"scale":{"domain":[-0.294,-0.2,-0.13,-0.1,-0.075,-0.05,-0.025,0,0.025,0.05,0.075,0.1,0.15,0.2,0.294],"range":["#2e0f6e","#3510b0","#3a3ff5","#3a60f5","#4a90f5","#75bdf0","#c0e0f5","#efefef","#efc8e4","#f89abc","#ee6078","#e03040","#b81018","#880010","#4a0020"]}},"stroke":{"field":"v","type":"quantitative","legend":null,"scale":{"domain":[-0.294,-0.2,-0.13,-0.1,-0.075,-0.05,-0.025,0,0.025,0.05,0.075,0.1,0.15,0.2,0.294],"range":["#2e0f6e","#3510b0","#3a3ff5","#3a60f5","#4a90f5","#75bdf0","#c0e0f5","#efefef","#efc8e4","#f89abc","#ee6078","#e03040","#b81018","#880010","#4a0020"]}}}},
{"width":228,"height":228,"title":{"text":"(Y+1)/(2*X+1) - gpeval (4,myDOF,2)","orient":"bottom","anchor":"start","dx":9,"offset":5},"data":{"name":"p3"},"mark":{"type":"rect","strokeWidth":1},"encoding":{"x":{"field":"x","type":"ordinal","axis":null},"y":{"field":"y","type":"ordinal","axis":null,"sort":"descending"},"color":{"field":"v","type":"quantitative","legend":null,"scale":{"domain":[-0.294,-0.2,-0.13,-0.1,-0.075,-0.05,-0.025,0,0.025,0.05,0.075,0.1,0.15,0.2,0.294],"range":["#2e0f6e","#3510b0","#3a3ff5","#3a60f5","#4a90f5","#75bdf0","#c0e0f5","#efefef","#efc8e4","#f89abc","#ee6078","#e03040","#b81018","#880010","#4a0020"]}},"stroke":{"field":"v","type":"quantitative","legend":null,"scale":{"domain":[-0.294,-0.2,-0.13,-0.1,-0.075,-0.05,-0.025,0,0.025,0.05,0.075,0.1,0.15,0.2,0.294],"range":["#2e0f6e","#3510b0","#3a3ff5","#3a60f5","#4a90f5","#75bdf0","#c0e0f5","#efefef","#efc8e4","#f89abc","#ee6078","#e03040","#b81018","#880010","#4a0020"]}}}},
{"width":228,"height":228,"title":{"text":"Gauss point stored values (myDOF)","orient":"bottom","anchor":"start","dx":10,"offset":5},"layer":[{"data":{"name":"p4"},"mark":{"type":"rect","strokeWidth":1},"encoding":{"x":{"field":"x","type":"quantitative","axis":null,"scale":{"domain":[0,1],"nice":false}},"x2":{"field":"x2"},"y":{"field":"y","type":"quantitative","axis":null,"scale":{"domain":[0,1],"nice":false}},"y2":{"field":"y2"},"color":{"field":"v","type":"quantitative","legend":null,"scale":{"domain":[0.264,0.4,0.55,0.68,0.75,0.91,1,1.2,1.4,1.54,1.6,1.8,2],"range":["#3a0050","#3b0d5c","#382a72","#31407a","#2a4a7a","#236a78","#1f7278","#1f9272","#30b060","#4cbb5e","#6ccc40","#b8dc20","#ffe010"]}},"stroke":{"field":"v","type":"quantitative","legend":null,"scale":{"domain":[0.264,0.4,0.55,0.68,0.75,0.91,1,1.2,1.4,1.54,1.6,1.8,2],"range":["#3a0050","#3b0d5c","#382a72","#31407a","#2a4a7a","#236a78","#1f7278","#1f9272","#30b060","#4cbb5e","#6ccc40","#b8dc20","#ffe010"]}}}},{"data":{"name":"s"},"mark":{"type":"point","filled":true,"shape":"square","size":4,"color":"#e000e0","opacity":1},"encoding":{"x":{"field":"x","type":"quantitative"},"y":{"field":"y","type":"quantitative"}}},{"data":{"name":"s"},"mark":{"type":"text","color":"#e000e0","fontSize":13,"dy":13},"encoding":{"x":{"field":"x","type":"quantitative"},"y":{"field":"y","type":"quantitative"},"text":{"field":"t"}}}]},
{"width":228,"height":228,"title":{"text":"gpeval (4,myDOF)","orient":"bottom","anchor":"start","dx":10,"offset":5},"data":{"name":"p5"},"mark":{"type":"rect","strokeWidth":1},"encoding":{"x":{"field":"x","type":"ordinal","axis":null},"y":{"field":"y","type":"ordinal","axis":null,"sort":"descending"},"color":{"field":"v","type":"quantitative","legend":null,"scale":{"domain":[0.264,0.4,0.55,0.68,0.75,0.91,1,1.2,1.4,1.54,1.6,1.8,2],"range":["#3a0050","#3b0d5c","#382a72","#31407a","#2a4a7a","#236a78","#1f7278","#1f9272","#30b060","#4cbb5e","#6ccc40","#b8dc20","#ffe010"]}},"stroke":{"field":"v","type":"quantitative","legend":null,"scale":{"domain":[0.264,0.4,0.55,0.68,0.75,0.91,1,1.2,1.4,1.54,1.6,1.8,2],"range":["#3a0050","#3b0d5c","#382a72","#31407a","#2a4a7a","#236a78","#1f7278","#1f9272","#30b060","#4cbb5e","#6ccc40","#b8dc20","#ffe010"]}}}},
{"width":228,"height":228,"title":{"text":"gpeval (4,myDOF,2)","orient":"bottom","anchor":"start","dx":10,"offset":5},"data":{"name":"p6"},"mark":{"type":"rect","strokeWidth":1},"encoding":{"x":{"field":"x","type":"ordinal","axis":null},"y":{"field":"y","type":"ordinal","axis":null,"sort":"descending"},"color":{"field":"v","type":"quantitative","legend":null,"scale":{"domain":[0.264,0.4,0.55,0.68,0.75,0.91,1,1.2,1.4,1.54,1.6,1.8,2],"range":["#3a0050","#3b0d5c","#382a72","#31407a","#2a4a7a","#236a78","#1f7278","#1f9272","#30b060","#4cbb5e","#6ccc40","#b8dc20","#ffe010"]}},"stroke":{"field":"v","type":"quantitative","legend":null,"scale":{"domain":[0.264,0.4,0.55,0.68,0.75,0.91,1,1.2,1.4,1.54,1.6,1.8,2],"range":["#3a0050","#3b0d5c","#382a72","#31407a","#2a4a7a","#236a78","#1f7278","#1f9272","#30b060","#4cbb5e","#6ccc40","#b8dc20","#ffe010"]}}}}]}]},
{"spacing":28,"resolve":{"scale":{"color":"independent","stroke":"independent"}},"hconcat":[{"width":8,"height":654,"data":{"name":"cb1"},"mark":{"type":"rect","strokeWidth":1},"encoding":{"y":{"field":"a","type":"quantitative","scale":{"domain":[0.264,2],"nice":false,"zero":false},"axis":{"orient":"right","grid":false,"domain":false,"title":null,"values":[0.4,0.6,0.8,1,1.2,1.4,1.6,1.8,2],"labelExpr":"''+datum.value","tickSize":-2,"labelPadding":6,"labelFontSize":13,"labelFont":"DejaVu Sans","labelColor":"#222222","tickColor":"#333333","zindex":1,"labelOverlap":false}},"y2":{"field":"b"},"color":{"field":"v","type":"quantitative","legend":null,"scale":{"domain":[0.264,0.4,0.55,0.68,0.75,0.91,1,1.2,1.4,1.54,1.6,1.8,2],"range":["#3a0050","#3b0d5c","#382a72","#31407a","#2a4a7a","#236a78","#1f7278","#1f9272","#30b060","#4cbb5e","#6ccc40","#b8dc20","#ffe010"]}},"stroke":{"field":"v","type":"quantitative","legend":null,"scale":{"domain":[0.264,0.4,0.55,0.68,0.75,0.91,1,1.2,1.4,1.54,1.6,1.8,2],"range":["#3a0050","#3b0d5c","#382a72","#31407a","#2a4a7a","#236a78","#1f7278","#1f9272","#30b060","#4cbb5e","#6ccc40","#b8dc20","#ffe010"]}}}},
{"width":8,"height":654,"data":{"name":"cb2"},"mark":{"type":"rect","strokeWidth":1},"encoding":{"y":{"field":"a","type":"quantitative","scale":{"domain":[-0.294,0.294],"nice":false,"zero":false},"axis":{"orient":"right","grid":false,"domain":false,"title":null,"values":[-0.2,-0.1,0,0.1,0.2],"labelExpr":"''+datum.value","tickSize":-2,"labelPadding":6,"labelFontSize":13,"labelFont":"DejaVu Sans","labelColor":"#222222","tickColor":"#333333","zindex":1,"labelOverlap":false}},"y2":{"field":"b"},"color":{"field":"v","type":"quantitative","legend":null,"scale":{"domain":[-0.294,-0.2,-0.13,-0.1,-0.075,-0.05,-0.025,0,0.025,0.05,0.075,0.1,0.15,0.2,0.294],"range":["#2e0f6e","#3510b0","#3a3ff5","#3a60f5","#4a90f5","#75bdf0","#c0e0f5","#efefef","#efc8e4","#f89abc","#ee6078","#e03040","#b81018","#880010","#4a0020"]}},"stroke":{"field":"v","type":"quantitative","legend":null,"scale":{"domain":[-0.294,-0.2,-0.13,-0.1,-0.075,-0.05,-0.025,0,0.025,0.05,0.075,0.1,0.15,0.2,0.294],"range":["#2e0f6e","#3510b0","#3a3ff5","#3a60f5","#4a90f5","#75bdf0","#c0e0f5","#efefef","#efc8e4","#f89abc","#ee6078","#e03040","#b81018","#880010","#4a0020"]}}}}]}]}
